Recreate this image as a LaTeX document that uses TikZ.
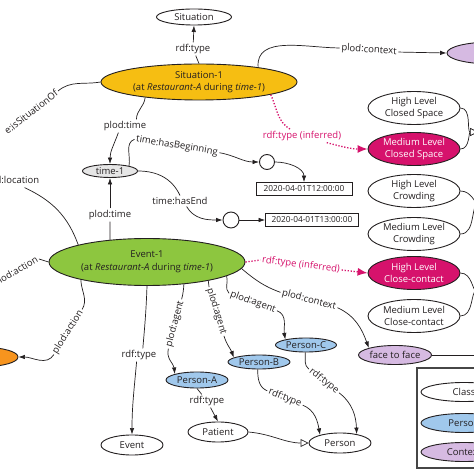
\documentclass[tikz,border=0pt]{standalone}
\usepackage{fontspec}
\setmainfont{Open Sans}
\usetikzlibrary{shapes.geometric,arrows.meta}
\definecolor{inkblack}{RGB}{35,31,32}
\definecolor{sityellow}{RGB}{246,190,18}
\definecolor{evgreen}{RGB}{141,198,63}
\definecolor{timegray}{RGB}{230,230,230}
\definecolor{infmagenta}{RGB}{214,18,108}
\definecolor{persblue}{RGB}{160,200,236}
\definecolor{ctxlilac}{RGB}{214,186,226}
\definecolor{actorange}{RGB}{247,148,30}
\definecolor{framegray}{RGB}{70,70,70}

\tikzset{
  every node/.style={font=\fontsize{9.5}{12.5}\selectfont, text=inkblack},
  cls/.style={ellipse, draw=inkblack, line width=0.9pt, fill=white, inner sep=0pt, align=center},
  clsinf/.style={cls, fill=infmagenta, text=white},
  lbl/.style={inner sep=1.5pt},
  tbox/.style={draw=inkblack, line width=0.8pt, inner sep=1pt, minimum width=96, minimum height=13, font=\fontsize{8.3}{10}\selectfont},
  knot/.style={circle, draw=inkblack, line width=0.9pt, fill=white, minimum size=15, inner sep=0pt},
  arr/.style={-{Latex[length=6.5pt,width=4.5pt]}},
  inf/.style={draw=infmagenta, line width=1.3pt, dash pattern=on 1.3pt off 1.7pt},
  infarr/.style={-{Latex[length=10pt,width=8pt]}},
  sub/.style={-{Triangle[open,length=8pt,width=8pt,fill=white]}},
}

\begin{document}
\begin{tikzpicture}[x=1pt, y=1pt, line width=0.7pt, color=inkblack]

% Background and frame
\useasboundingbox (0,0) rectangle (474,474);
\fill[white] (0,0) rectangle (474,474);
\clip (0,0) rectangle (474,474);

% Situation part
\node[cls, minimum width=75, minimum height=16] (sit) at (194,457) {Situation};
\node[cls, fill=sityellow, minimum width=196, minimum height=36] (sit1) at (199,392)
  {Situation-1\\(at \textit{Restaurant-A} during \textit{time-1})};
\node[cls, fill=ctxlilac, minimum width=90, minimum height=22] (ctxtop) at (492,421) {};

% Time part
\node[cls, fill=timegray, minimum width=55, minimum height=13] (time1) at (110,303) {time-1};
\node[knot] (cb) at (267,312) {};
\node[knot, minimum size=16] (ce) at (231,254) {};
\node[tbox] (tb) at (304,285) {2020-04-01T12:00:00};
\node[tbox, minimum width=93] (te) at (312,254) {2020-04-01T13:00:00};

% Event part
\node[cls, fill=evgreen, minimum width=196, minimum height=47] (ev1) at (147,212)
  {Event-1\\(at \textit{Restaurant-A} during \textit{time-1})};
\node[cls, fill=actorange, minimum width=66, minimum height=19] (act) at (-15,117) {};
\node[cls, minimum width=62, minimum height=20] (evc) at (132,29) {Event};
\node[cls, fill=persblue, minimum width=62, minimum height=16] (pa) at (197,94) {Person-A};
\node[cls, fill=persblue, minimum width=62, minimum height=14] (pb) at (259,112) {Person-B};
\node[cls, fill=persblue, minimum width=61, minimum height=14] (pc) at (306,129) {Person-C};
\node[cls, minimum width=60, minimum height=20] (pat) at (218,42) {Patient};
\node[cls, minimum width=62, minimum height=20] (per) at (340,31) {Person};
\node[cls, fill=ctxlilac, minimum width=73, minimum height=19] (fac) at (395,119) {face to face};

% Context classes (right column)
\foreach \nm/\yy/\sty/\ta/\tb in {
  hlcs/366/cls/High Level/Closed Space,
  mlcs/325/clsinf/Medium Level/Closed Space,
  hlcr/283/cls/High Level/Crowding,
  mlcr/240/cls/Medium Level/Crowding,
  hlcc/201/clsinf/High Level/Close-contact,
  mlcc/158/cls/Medium Level/Close-contact}{
  \node[\sty, minimum width=92, minimum height=33] (\nm) at (414,\yy) {\ta\\\tb};
}

% Subclass links leaving the picture
\coordinate (cssup) at (478,342);
\coordinate (crsup) at (486,270);
\coordinate (ccsup) at (484,183);
\coordinate (facout) at (490,119);
\draw[sub] (hlcs.east) to[out=0,in=180] (cssup);
\draw[sub] (mlcs.east) to[out=0,in=180] (cssup);
\draw[sub] (hlcr.east) to[out=0,in=180] (crsup);
\draw[sub] (mlcr.east) to[out=0,in=180] (crsup);
\draw[sub] (hlcc.east) to[out=0,in=180] (ccsup);
\draw[sub] (mlcc.east) to[out=0,in=180] (ccsup);
\draw (fac.east) -- (facout);

% Situation edges
\node[lbl] (lst) at (193,425) {rdf:type};
\draw (sit1.north) -- (lst);
\draw[arr] (lst) -- (sit.south);

\node[lbl, rotate=-4] (lctx1) at (369,424) {plod:context};
\draw (sit1.14) to[out=95,in=180] (lctx1.west);
\draw[arr] (lctx1.east) -- (ctxtop.west);

\node[lbl, rotate=38, anchor=east] (list) at (58,383) {e:isSituationOf};
\draw (sit1.west) to[out=190,in=40] (list.east);

\node[lbl] (lpt1) at (125,348) {plod:time};
\draw (sit1.196) to[out=-95,in=90] (lpt1.30);
\draw[arr] (lpt1.225) to[out=-110,in=90] (time1.north);

\node[lbl, text=infmagenta] (lin1) at (302,338) {rdf:type (inferred)};
\draw[inf] (sit1.-10) to[out=-65,in=150] (lin1);
\draw[inf, infarr] (lin1) to[out=-15,in=180] (mlcs);

% Time edges
\node[lbl] (lpt2) at (110,259) {plod:time};
\draw (ev1.149) -- (lpt2);
\draw[arr] (lpt2) -- (time1.south);

\node[lbl, rotate=-9] (lhb) at (177,328) {time:hasBeginning};
\draw (time1.15) to[out=80,in=200] (lhb.west);
\draw[arr] (lhb.east) to[out=-10,in=180] (cb);
\draw[arr] (cb) to[out=0,in=90] (tb.north);

\node[lbl] (lhe) at (180,273) {time:hasEnd};
\draw (time1.east) to[out=0,in=115] (lhe.north);
\draw[arr] (lhe.-40) to[out=-60,in=180] (ce);
\draw[arr] (ce) -- (te);

% Event edges
\node[lbl, text=infmagenta, rotate=-7] (lin2) at (301,209) {rdf:type (inferred)};
\draw[inf] (ev1.east) -- (lin2.west);
\draw[inf, infarr] (lin2.east) -- (hlcc.west);

\node[lbl] (lrt) at (139,119) {rdf:type};
\draw (ev1.south) to[out=-92,in=85] (lrt.60);
\draw[arr] (lrt.-110) to[out=-95,in=90] (evc.north);

\node[lbl, rotate=75] (lagA) at (175,150) {plod:agent};
\draw (ev1.-31) to[out=-95,in=75] (lagA.east);
\draw[arr] (lagA.west) to[out=-105,in=95] (pa.165);

\node[lbl, rotate=-73] (lagB) at (216.5,162.5) {plod:agent};
\draw (ev1.-17) to[out=-80,in=107] (lagB.west);
\draw[arr] (lagB.east) to[out=-73,in=110] (pb.170);

\node[lbl, rotate=-20] (lagC) at (253,172) {plod:agent};
\draw (ev1.-10) to[out=-75,in=135] (lagC.west);
\draw[arr] (lagC.east) to[out=-20,in=100] (pc.165);

\node[lbl, rotate=-15] (lctx2) at (309,174) {plod:context};
\draw (ev1.-4) to[out=-40,in=160] (lctx2.west);
\draw[arr] (lctx2.east) to[out=-25,in=110] (fac.165);

\node[lbl, rotate=58] (lact2) at (68,142) {plod:action};
\draw (ev1.195) to[out=-88,in=58] (lact2.east);
\draw[arr] (lact2.west) to[out=-122,in=0] (act.east);

\node[lbl, rotate=30, anchor=east] (lact1) at (39,215) {plod:action};
\draw (ev1.west) -- (lact1.east);

\node[lbl, anchor=east] (lloc) at (41,293) {plod:location};
\draw (ev1.166) to[out=110,in=-25] (lloc);

% Person edges
\node[lbl] (ltA) at (207,73) {rdf:type};
\draw (pa.south) -- (ltA);
\draw[arr] (ltA) -- (pat.north);

\node[lbl, rotate=-22] (ltB) at (285,76) {rdf:type};
\draw (pb.-100) to[out=-90,in=158] (ltB.west);
\draw[arr] (ltB.east) to[out=-22,in=100] (per.158);

\node[lbl, rotate=-38] (ltC) at (324,93) {rdf:type};
\draw (pc.-95) to[out=-90,in=142] (ltC.west);
\draw[arr] (ltC.east) to[out=-38,in=92] (per.28);

\draw[sub] (pat.east) to[out=-5,in=180] (per.west);

% Legend
\draw[framegray, line width=1.4pt] (417,106) rectangle (530,6);
\foreach \nm/\yy/\clr/\txt in {legc/82/white/Class, legp/51/persblue/Person, legx/22/ctxlilac/Context}{
  \node[cls, fill=\clr, minimum width=86, minimum height=19] (\nm) at (464,\yy) {\txt};
}

\end{tikzpicture}
\end{document}
